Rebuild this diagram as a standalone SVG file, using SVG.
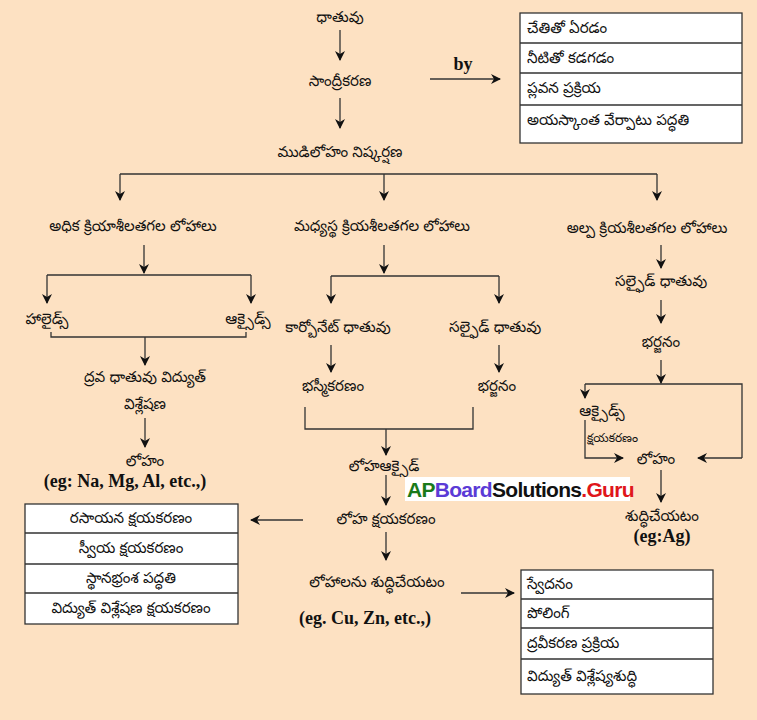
<svg xmlns="http://www.w3.org/2000/svg" width="757" height="720" viewBox="0 0 757 720">
<style>
.t{font-family:"Noto Sans Telugu","Noto Sans","DejaVu Sans",sans-serif;font-size:15px;fill:#111;text-anchor:middle;dominant-baseline:middle}
.l{text-anchor:start}
.e{font-family:"Liberation Serif",serif;font-weight:bold;font-size:18px;fill:#111;text-anchor:middle;dominant-baseline:middle}
.c{fill:none;stroke:#333;stroke-width:1.3}
.a{fill:none;stroke:#333;stroke-width:1.3;marker-end:url(#a)}
.b{fill:#fff;stroke:#333;stroke-width:1.3}
</style>
<defs><marker id="a" viewBox="0 0 10 10" refX="9" refY="5" markerWidth="10" markerHeight="10" markerUnits="userSpaceOnUse" orient="auto"><path d="M0,0L10,5L0,10L3,5Z" fill="#111"/></marker></defs>
<rect width="757" height="720" fill="#fde1c2"/>
<g id="connectors">
<path class="c" d="M120 174H657M47 275H251M331 276H499M585 384H742V458M51 332V337H246V332M305 407V429H473V407"/>
<path class="a" d="M340 30V60"/><path class="a" d="M340 98V128"/><path class="a" d="M430 79H500"/>
<path class="a" d="M120 174V200"/><path class="a" d="M384 174V200"/><path class="a" d="M657 174V200"/>
<path class="a" d="M144 245V273"/><path class="a" d="M384 245V273"/><path class="a" d="M661 245V268"/>
<path class="a" d="M47 275V303"/><path class="a" d="M251 275V303"/><path class="a" d="M331 276V303"/><path class="a" d="M499 276V303"/>
<path class="a" d="M145 337V365"/><path class="a" d="M145 418V447"/><path class="a" d="M331 345V372"/><path class="a" d="M499 345V372"/><path class="a" d="M386 429V455"/>
<path class="a" d="M661 300V323"/><path class="a" d="M661 360V383"/><path class="a" d="M585 384V398"/><path class="a" d="M742 458H698"/><path class="a" d="M585 420V458H623"/>
<path class="a" d="M661 470V502"/><path class="a" d="M386 475V505"/><path class="a" d="M303 520H251"/><path class="a" d="M386 532V560"/><path class="a" d="M461 593H514"/>
</g>
<g id="n1"><text class="t" x="340" y="18">ధాతువు</text></g>
<g id="n2"><text class="t" x="340" y="82">సాంద్రీకరణ</text></g>
<g id="by"><text class="e" x="463" y="66">by</text></g>
<g id="box1"><rect class="b" x="520" y="13" width="222" height="130"/><path class="c" d="M520 43H742M520 73H742M520 105H742"/>
<text class="t l" x="527" y="29">చేతితో ఏరడం</text><text class="t l" x="527" y="59">నీటితో కడగడం</text><text class="t l" x="527" y="89">ప్లవన ప్రక్రియ</text><text class="t l" x="527" y="121">అయస్కాంత వేర్పాటు పద్ధతి</text></g>
<g id="n3"><text class="t" x="340" y="153">ముడిలోహం నిష్కర్షణ</text></g>
<g id="n4"><text class="t" x="133" y="227">అధిక క్రియాశీలతగల లోహాలు</text></g>
<g id="n5"><text class="t" x="382" y="227">మధ్యస్థ క్రియశీలతగల లోహాలు</text></g>
<g id="n6"><text class="t" x="647" y="229">అల్ప క్రియశీలతగల లోహాలు</text></g>
<g id="n7"><text class="t" x="47" y="320">హాలైడ్స్</text></g>
<g id="n8"><text class="t" x="248" y="320">ఆక్సైడ్స్</text></g>
<g id="n9"><text class="t" x="145" y="378">ద్రవ ధాతువు విద్యుత్</text><text class="t" x="145" y="405">విశ్లేషణ</text></g>
<g id="n10"><text class="t" x="145" y="462">లోహం</text><text class="e" x="125" y="483">(eg: Na, Mg, Al, etc.,)</text></g>
<g id="n11"><text class="t" x="338" y="328">కార్బోనేట్ ధాతువు</text></g>
<g id="n12"><text class="t" x="495" y="328">సల్ఫైడ్ ధాతువు</text></g>
<g id="n13"><text class="t" x="333" y="387">భస్మీకరణం</text></g>
<g id="n14"><text class="t" x="497" y="387">భర్జనం</text></g>
<g id="n15"><text class="t" x="384" y="467">లోహఆక్సైడ్</text></g>
<g id="n16"><text class="t" x="661" y="282">సల్ఫైడ్ ధాతువు</text></g>
<g id="n17"><text class="t" x="661" y="343">భర్జనం</text></g>
<g id="n18"><text class="t" x="602" y="412">ఆక్సైడ్స్</text><text class="t l" x="587" y="439" style="font-size:12px">క్షయకరణం</text></g>
<g id="n19"><text class="t" x="656" y="460">లోహం</text></g>
<g id="n20"><text class="t" x="662" y="517">శుద్ధిచేయటం</text><text class="e" x="662" y="538">(eg:Ag)</text></g>
<g id="wm"><rect x="405" y="477" width="225" height="24" fill="#fff"/><text x="407" y="497" style="font-family:'Liberation Sans',sans-serif;font-weight:bold;font-size:21px;letter-spacing:-0.7px"><tspan fill="#1a7a1a">AP</tspan><tspan fill="#5b3bd6">Board</tspan><tspan fill="#111">Solutions</tspan><tspan fill="#e0161b">.Guru</tspan></text></g>
<g id="n21"><text class="t" x="386" y="520">లోహ క్షయకరణం</text></g>
<g id="box2"><rect class="b" x="25" y="504" width="213" height="120"/><path class="c" d="M25 533H238M25 564H238M25 593H238"/>
<text class="t" x="131" y="519">రసాయన క్షయకరణం</text><text class="t" x="131" y="549">స్వీయ క్షయకరణం</text><text class="t" x="131" y="579">స్థానభ్రంశ పద్ధతి</text><text class="t" x="131" y="609">విద్యుత్ విశ్లేషణ క్షయకరణం</text></g>
<g id="n22"><text class="t" x="377" y="583">లోహాలను శుద్ధిచేయటం</text><text class="e" x="365" y="620">(eg. Cu, Zn, etc.,)</text></g>
<g id="box3"><rect class="b" x="521" y="570" width="192" height="124"/><path class="c" d="M521 599H713M521 628H713M521 659H713"/>
<text class="t l" x="527" y="585">స్వేదనం</text><text class="t l" x="527" y="614">పోలింగ్</text><text class="t l" x="527" y="644">ద్రవీకరణ ప్రక్రియ</text><text class="t l" x="527" y="677">విద్యుత్ విశ్లేష్యశుద్ధి</text></g>
</svg>
